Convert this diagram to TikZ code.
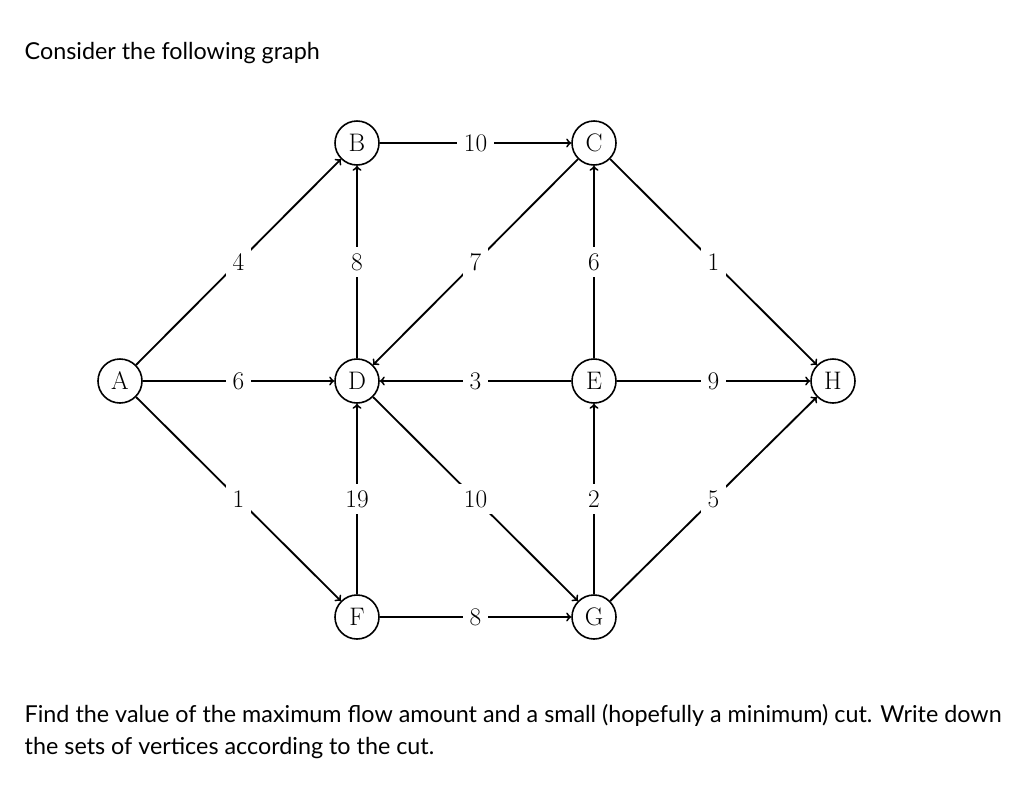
\documentclass[tikz,border=0pt]{standalone}
\usepackage{fontspec}
\newfontfamily\lato{Lato}
\begin{document}
\begin{tikzpicture}[x=0.75pt,y=-0.75pt,
  vtx/.style={circle,draw,line width=1.2pt,minimum size=33pt,inner sep=0pt,font=\fontsize{19}{19}\selectfont},
  edg/.style={->,>=to,line width=1.4pt},
  lbl/.style={fill=white,inner sep=5pt,font=\fontsize{19}{19}\selectfont}]
\useasboundingbox (0,0) rectangle (1024,811);
\node[anchor=west,font=\lato\fontsize{17.5}{20}\selectfont] (t1) at (20,53) {Consider the following graph};
\node (A) [vtx] at (120,381) {A};
\node (B) [vtx] at (357,143) {B};
\node (C) [vtx] at (594,143) {C};
\node (D) [vtx] at (357,381) {D};
\node (E) [vtx] at (594,381) {E};
\node (H) [vtx] at (833,381) {H};
\node (F) [vtx] at (357,617) {F};
\node (G) [vtx] at (594,617) {G};
\draw[edg] (A) -- node[lbl]{4} (B);
\draw[edg] (A) -- node[lbl]{6} (D);
\draw[edg] (A) -- node[lbl]{1} (F);
\draw[edg] (B) -- node[lbl]{10} (C);
\draw[edg] (D) -- node[lbl]{8} (B);
\draw[edg] (C) -- node[lbl]{7} (D);
\draw[edg] (E) -- node[lbl]{3} (D);
\draw[edg] (E) -- node[lbl]{6} (C);
\draw[edg] (C) -- node[lbl]{1} (H);
\draw[edg] (E) -- node[lbl]{9} (H);
\draw[edg] (F) -- node[lbl]{19} (D);
\draw[edg] (D) -- node[lbl]{10} (G);
\draw[edg] (F) -- node[lbl]{8} (G);
\draw[edg] (G) -- node[lbl]{2} (E);
\draw[edg] (G) -- node[lbl]{5} (H);
\node[anchor=west,font=\lato\fontsize{17.5}{20}\selectfont] (t2) at (20,715) {Find the value of the maximum flow amount and a small (hopefully a minimum) cut. Write down};
\node[anchor=west,font=\lato\fontsize{17.5}{20}\selectfont] (t3) at (20,748) {the sets of vertices according to the cut.};
\end{tikzpicture}
\end{document}
